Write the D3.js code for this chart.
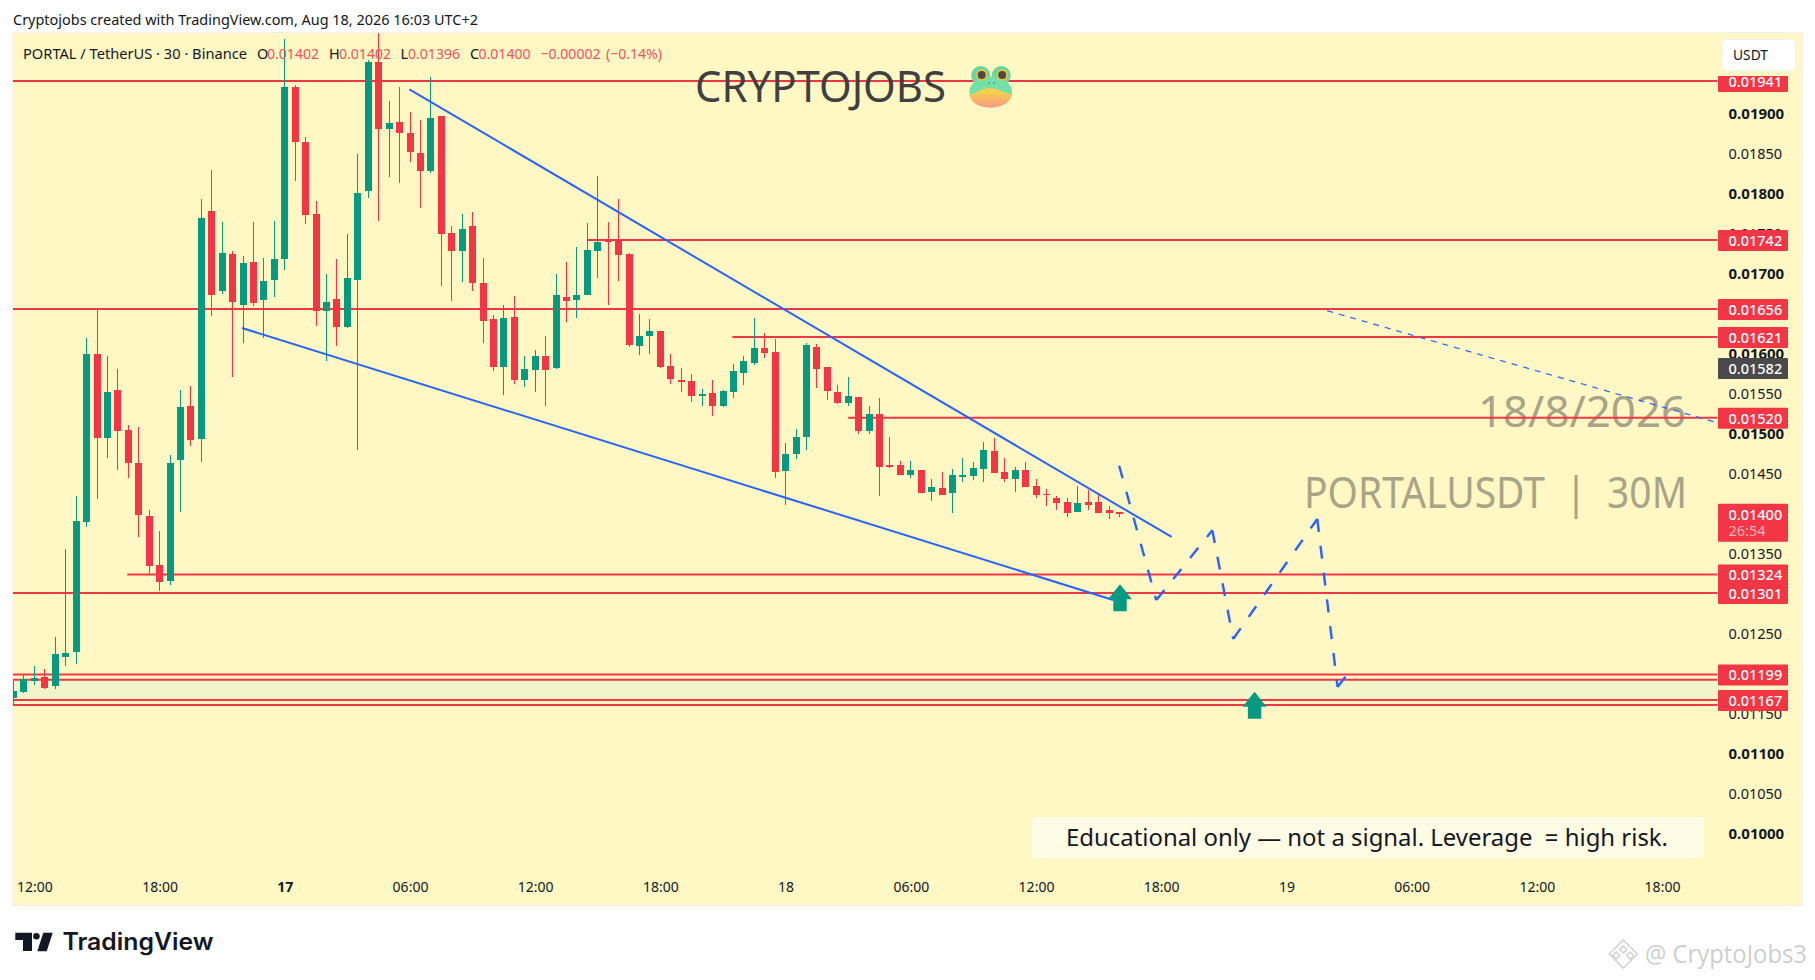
<!DOCTYPE html>
<html>
<head>
<meta charset="utf-8">
<title>PORTALUSDT 30M</title>
<script src="https://cdn.jsdelivr.net/npm/d3@7"></script>
<style>
  html, body { margin: 0; padding: 0; background: #fff; }
  svg { display: block; }
  text { font-family: "Noto Sans", sans-serif; }
</style>
</head>
<body>
<div id="chart"></div>
<script>
// candles, 1e-5 USDT. bar 0 = 12:00 on the 16th, one bar = 30 min
const firstBar = -2;
const opens = [1170,1177,1191,1196,1185,1221,1227,1390,1600,1495,1555,1505,1463,1397,1336,1316,1467,1535,1493,1778,1678,1725,1661,1715,1667,1692,1718,1933,1865,1775,1653,1668,1633,1692,1803,1965,1881,1890,1876,1851,1828,1897,1751,1728,1760,1688,1643,1583,1646,1567,1580,1597,1582,1671,1667,1673,1728,1742,1742,1725,1610,1622,1628,1585,1567,1566,1547,1551,1535,1552,1576,1588,1607,1602,1453,1475,1496,1608,1583,1552,1538,1546,1503,1525,1461,1461,1448,1455,1427,1432,1426,1447,1447,1456,1478,1452,1443,1455,1435,1425,1420,1415,1402,1415,1415,1405,1402];
const highs = [1191,1200,1210,1206,1246,1356,1422,1620,1655,1597,1581,1511,1508,1405,1378,1473,1555,1560,1793,1830,1765,1728,1722,1765,1720,1766,1993,1936,1871,1791,1700,1718,1750,1850,1967,2003,1916,1933,1902,1892,1946,1897,1760,1775,1777,1720,1648,1661,1672,1597,1605,1622,1700,1715,1733,1763,1822,1765,1793,1726,1650,1643,1629,1600,1582,1575,1556,1567,1555,1587,1597,1645,1626,1618,1488,1506,1613,1612,1584,1561,1571,1546,1535,1545,1496,1466,1466,1455,1443,1452,1456,1470,1465,1490,1495,1470,1458,1465,1443,1431,1422,1420,1435,1430,1425,1410,1402];
const lows = [1161,1176,1186,1181,1181,1210,1212,1383,1418,1470,1455,1445,1371,1325,1303,1311,1402,1485,1465,1647,1675,1571,1613,1660,1620,1671,1705,1816,1762,1635,1591,1610,1632,1480,1795,1766,1821,1813,1840,1782,1826,1685,1666,1690,1678,1613,1578,1548,1562,1558,1552,1535,1581,1640,1645,1673,1695,1661,1691,1608,1598,1600,1582,1562,1552,1540,1535,1522,1533,1545,1561,1586,1595,1445,1411,1468,1480,1557,1542,1537,1535,1500,1500,1422,1457,1448,1445,1426,1416,1423,1401,1440,1442,1440,1451,1440,1427,1433,1420,1410,1405,1396,1402,1405,1401,1393,1396];
const closes = [1178,1193,1195,1182,1225,1226,1391,1600,1495,1552,1504,1463,1398,1335,1315,1463,1533,1492,1770,1673,1726,1665,1713,1663,1691,1718,1933,1865,1773,1653,1665,1633,1695,1801,1965,1881,1888,1876,1852,1828,1895,1750,1728,1756,1688,1641,1583,1645,1567,1581,1597,1580,1673,1666,1673,1730,1740,1740,1723,1611,1622,1628,1583,1568,1566,1547,1550,1535,1553,1578,1591,1607,1601,1452,1475,1496,1611,1581,1553,1538,1547,1503,1525,1458,1458,1448,1455,1426,1433,1423,1448,1448,1457,1480,1451,1443,1455,1433,1423,1423,1413,1401,1413,1411,1401,1401,1400];

// price axis, the ones fully behind a price tag are left out
const priceTicks = [1000,1050,1100,1150,1250,1350,1450,1500,1550,1600,1700,1750,1800,1850,1900];

// time axis (bar index + label)
const timeBars = [0,12,24,36,48,60,72,84,96,108,120,132,144,156];
const timeLabels = ["12:00","18:00","17","06:00","12:00","18:00","18","06:00","12:00","18:00","19","06:00","12:00","18:00"];
const timeBold = ["17"];

// horizontal levels: price, bar where it starts (null = runs from the left edge)
const levelPrices = [1941,1742,1656,1621,1520,1324,1301,1199,1167];
const levelStarts = [null,53.0,null,66.9,78.0,8.9,null,null,null];

// support zone edges
const zoneTop = 1192.5;
const zoneBottom = 1167;
const zoneLowLine = 1161;

// drawings: [bar, price]
const upperTrend = [[35.94,1930.5],[109.0,1370.9]];
const lowerTrend = [[19.9,1632.1],[103.4,1292.1]];
const thinDashed = [[123.9,1653.75],[161.3,1513.75]];
const projection = [[103.97,1460],[107.53,1292],[112.9,1379.25],[114.9,1243.4],[122.96,1393.4],[124.9,1183.4],[125.95,1201]];
const arrowTips = [[104.05,1311.75],[116.95,1177.5]];

const width = 1815;
const height = 980;
const chartL = 13, chartR = 1802, chartT = 33, chartB = 905;
const plotR = 1717;

const green = "#089981";
const red = "#f23645";
const blue = "#2962ff";
const paper = "#fff8c4";

const x = d3.scaleLinear().domain([0,12]).range([34.4,159.6]);
const y = d3.scaleLinear().domain([1000,1900]).range([833.7,113.7]);

const svg = d3.select("#chart").append("svg")
    .attr("width", width)
    .attr("height", height)
    .attr("viewBox", `0 0 ${width} ${height}`);

const defs = svg.append("defs");
defs.append("clipPath").attr("id", "plot-clip")
    .append("rect").attr("x", chartL).attr("y", chartT)
    .attr("width", plotR - chartL).attr("height", chartB - chartT);

const belly = defs.append("linearGradient").attr("id", "belly")
    .attr("x1", 0).attr("y1", 0).attr("x2", 0).attr("y2", 1);
belly.append("stop").attr("offset", "20%").attr("stop-color", "#f8d04c");
belly.append("stop").attr("offset", "100%").attr("stop-color", "#f99a86");

// puts a text down, optionally squeezed to a fixed width
function label(g, str, px, py, size, opts) {
    opts = opts || {};
    const t = g.append("text")
        .attr("x", px)
        .attr("y", py)
        .attr("font-size", size)
        .attr("fill", opts.fill || "#131722")
        .attr("font-weight", opts.weight || 400)
        .attr("text-anchor", opts.anchor || "start")
        .style("white-space", "pre")
        .text(str);
    if (opts.family) t.style("font-family", opts.family);
    if (opts.w) t.attr("textLength", opts.w).attr("lengthAdjust", "spacingAndGlyphs");
    return t;
}

// panel
svg.append("rect")
    .attr("x", chartL - .5).attr("y", chartT - .5)
    .attr("width", chartR - chartL + 1).attr("height", chartB - chartT + 1)
    .attr("fill", paper).attr("stroke", "#efefef").attr("stroke-width", 1);

// top line
label(svg, "Cryptojobs created with TradingView.com, Aug 18, 2026 16:03 UTC+2", 13, 25, 14.5, {w: 465});

const plot = svg.append("g").attr("clip-path", "url(#plot-clip)");

// zone
plot.append("rect")
    .attr("x", chartL).attr("width", plotR - chartL)
    .attr("y", y(zoneTop)).attr("height", y(zoneBottom) - y(zoneTop))
    .attr("fill", "#f2f5c9");

// watermark texts sit under the levels
label(plot, "18/8/2026", 1478, 426.5, 44, {fill: "#a8a487", w: 208});
label(plot, "PORTALUSDT  |  30M", 1304, 508, 43, {fill: "#a8a487", w: 383});

// levels
plot.selectAll("line.level")
    .data(levelPrices)
    .enter()
    .append("line")
    .attr("class", "level")
    .attr("x1", (d, i) => levelStarts[i] === null ? chartL : x(levelStarts[i]))
    .attr("x2", plotR)
    .attr("y1", d => y(d))
    .attr("y2", d => y(d))
    .attr("stroke", red)
    .attr("stroke-width", 2);

plot.selectAll("line.zone-edge")
    .data([zoneTop, zoneLowLine])
    .enter()
    .append("line")
    .attr("class", "zone-edge")
    .attr("x1", chartL)
    .attr("x2", plotR)
    .attr("y1", d => y(d))
    .attr("y2", d => y(d))
    .attr("stroke", red)
    .attr("stroke-width", 2);

// candles
const bars = d3.range(opens.length);
const barX = i => x(firstBar + i);
const barColor = i => closes[i] > opens[i] ? green : red;

const candles = plot.append("g").attr("shape-rendering", "crispEdges");
candles.selectAll("line")
    .data(bars)
    .enter()
    .append("line")
    .attr("x1", barX)
    .attr("x2", barX)
    .attr("y1", i => y(highs[i]))
    .attr("y2", i => y(lows[i]))
    .attr("stroke", barColor)
    .attr("stroke-width", 1);
candles.selectAll("rect")
    .data(bars)
    .enter()
    .append("rect")
    .attr("x", i => barX(i) - 3.5)
    .attr("width", 7)
    .attr("y", i => y(Math.max(opens[i], closes[i])))
    .attr("height", i => Math.max(1.5, Math.abs(y(opens[i]) - y(closes[i]))))
    .attr("fill", barColor);

// trend lines and the projected path
const drawLine = d3.line().x(d => x(d[0])).y(d => y(d[1]));

plot.selectAll("path.trend")
    .data([upperTrend, lowerTrend])
    .enter()
    .append("path")
    .attr("class", "trend")
    .attr("d", drawLine)
    .attr("fill", "none")
    .attr("stroke", blue)
    .attr("stroke-width", 2);

plot.append("path")
    .attr("d", drawLine(thinDashed))
    .attr("fill", "none")
    .attr("stroke", blue)
    .attr("stroke-width", 1.2)
    .attr("stroke-dasharray", "6 6");

// every leg starts its own dash, as the drawing tool does
plot.selectAll("path.leg")
    .data(d3.pairs(projection))
    .enter()
    .append("path")
    .attr("class", "leg")
    .attr("d", drawLine)
    .attr("fill", "none")
    .attr("stroke", blue)
    .attr("stroke-width", 2.4)
    .attr("stroke-dasharray", "13 14");

// arrows
plot.selectAll("path.arrow")
    .data(arrowTips)
    .enter()
    .append("path")
    .attr("class", "arrow")
    .attr("transform", d => `translate(${x(d[0])},${y(d[1])})`)
    .attr("d", "M0,0L12,15L6.7,15L6.7,27L-6.7,27L-6.7,15L-12,15Z")
    .attr("fill", green);

// price axis
const priceAxis = d3.axisRight(y)
    .tickValues(priceTicks)
    .tickSize(0)
    .tickPadding(0)
    .tickFormat(d => (d / 100000).toFixed(5));

const priceG = svg.append("g")
    .attr("transform", "translate(1728.5,0)")
    .call(priceAxis);
priceG.select(".domain").remove();
priceG.selectAll("text")
    .attr("font-size", d => d % 100 === 0 ? 15 : 14.5)
    .attr("fill", "#131722")
    .attr("font-weight", d => d % 100 === 0 ? 700 : 400)
    .style("font-family", "'Noto Sans', sans-serif");

// time axis
const timeAxis = d3.axisBottom(x)
    .tickValues(timeBars)
    .tickSize(0)
    .tickPadding(0)
    .tickFormat((d, i) => timeLabels[i]);

const timeG = svg.append("g")
    .attr("transform", "translate(0,882.5)")
    .call(timeAxis);
timeG.select(".domain").remove();
timeG.selectAll("text")
    .attr("font-size", 14)
    .attr("fill", "#131722")
    .attr("font-weight", (d, i) => timeBold.includes(timeLabels[i]) ? 700 : 400)
    .style("font-family", "'Noto Sans', sans-serif");

// price tags on the axis
const tagL = 1718, tagW = 70;
const tags = svg.append("g");
tags.selectAll("rect")
    .data(levelPrices)
    .enter()
    .append("rect")
    .attr("x", tagL)
    .attr("width", tagW)
    .attr("y", d => y(d) - 10)
    .attr("height", 21)
    .attr("rx", 1)
    .attr("fill", red);
tags.selectAll("text")
    .data(levelPrices)
    .enter()
    .append("text")
    .attr("x", 1728.5)
    .attr("y", d => y(d) + 5.8)
    .attr("font-size", 14.5)
    .attr("font-weight", 500)
    .attr("fill", "#fff")
    .text(d => (d / 100000).toFixed(5));

// marker at 0.01582, no line goes with it
tags.append("rect").attr("x", tagL).attr("width", tagW)
    .attr("y", y(1582) - 10).attr("height", 21).attr("rx", 1).attr("fill", "#4a4a4a");
label(tags, "0.01582", 1728.5, y(1582) + 5.8, 14.5, {fill: "#fff", weight: 500});

// last price with countdown
tags.append("rect").attr("x", tagL).attr("width", tagW)
    .attr("y", y(1400) - 10).attr("height", 38).attr("rx", 1).attr("fill", red);
label(tags, "0.01400", 1728.5, y(1400) + 5.8, 14.5, {fill: "#fff", weight: 500});
label(tags, "26:54", 1728.5, y(1400) + 22.5, 14.5, {fill: "#fbb4ba"});

// currency button, with a bit of panel colour round it
svg.append("rect").attr("x", 1718).attr("y", 37).attr("width", 82).attr("height", 39).attr("fill", paper);
svg.append("rect")
    .attr("x", 1722.5).attr("y", 39.5).attr("width", 73).attr("height", 31).attr("rx", 4)
    .attr("fill", "#fff").attr("stroke", "#f0f3fa");
label(svg, "USDT", 1733, 60, 14, {w: 35});

// legend row
const legend = svg.append("g");
const dim = "#f2525f";
label(legend, "PORTAL / TetherUS · 30 · Binance", 23, 59, 14.5, {w: 224});
label(legend, "O", 257, 59, 14.5);
label(legend, "0.01402", 267, 59, 14.5, {fill: dim, w: 52});
label(legend, "H", 329, 59, 14.5);
label(legend, "0.01402", 339, 59, 14.5, {fill: dim, w: 52});
label(legend, "L", 400.5, 59, 14.5);
label(legend, "0.01396", 408, 59, 14.5, {fill: dim, w: 52});
label(legend, "C", 470, 59, 14.5);
label(legend, "0.01400", 478.5, 59, 14.5, {fill: dim, w: 52});
label(legend, "−0.00002", 540.5, 59, 14.5, {fill: dim, w: 60});
label(legend, "(−0.14%)", 606, 59, 14.5, {fill: dim, w: 56});

// title
label(svg, "CRYPTOJOBS", 695, 102.3, 43, {fill: "#404040", w: 251});

// frog, no emoji font here
const frog = svg.append("g").attr("transform", "translate(990.7,0)");
frog.append("circle").attr("cx", -10).attr("cy", 75.5).attr("r", 9.5).attr("fill", "#69d6a0");
frog.append("circle").attr("cx", 10.5).attr("cy", 75.5).attr("r", 9.5).attr("fill", "#69d6a0");
frog.append("ellipse").attr("cx", 0).attr("cy", 92).attr("rx", 21.3).attr("ry", 15.5).attr("fill", "#72e0a8");
frog.append("path")
    .attr("d", "M-21,95C-14,93-9,88-1,88C7,88,13,93,21,94C20,103,10,107.5,0,107.5C-11,107.5-20,103-21,95Z")
    .attr("fill", "url(#belly)");
[-9, 11.5].forEach(cx => {
    frog.append("circle").attr("cx", cx).attr("cy", 75).attr("r", 5.8).attr("fill", "#f0c23c");
    frog.append("circle").attr("cx", cx).attr("cy", 75).attr("r", 4).attr("fill", "#4a4a48");
});
frog.append("circle").attr("cx", -1.5).attr("cy", 83).attr("r", .7).attr("fill", "#3a6a52");
frog.append("circle").attr("cx", 3.5).attr("cy", 83).attr("r", .7).attr("fill", "#3a6a52");

// note box
svg.append("rect").attr("x", 1032).attr("y", 817).attr("width", 672).attr("height", 41).attr("fill", "#fffce6");
label(svg, "Educational only — not a signal. Leverage  = high risk.", 1066, 846, 24, {w: 602});

// TradingView logo
const logo = svg.append("g").attr("fill", "#131722");
logo.append("path").attr("d", "M15.3,932.7H32V951H23V940H15.3Z");
logo.append("circle").attr("cx", 36.4).attr("cy", 936.2).attr("r", 3.3);
logo.append("path").attr("d", "M43.3,932.7H52.7L46.7,951.3H37.3Z");
label(svg, "TradingView", 62.5, 950, 24, {weight: 600, family: "Inter, sans-serif", w: 151});

// binance style mark + watermark handle
const mark = svg.append("g").attr("transform", "translate(1623.3,954)")
    .attr("fill", "none").attr("stroke", "#d4d4d4").attr("stroke-width", 1.6);
mark.append("path").attr("d", "M0,-14L14,0L0,14L-14,0Z");
mark.append("path").attr("d", "M0,-8L3.5,-4.5L0,-1L-3.5,-4.5Z");
mark.append("path").attr("d", "M-7,-2L-3.5,1.5L-7,5L-10.5,1.5Z");
mark.append("path").attr("d", "M7,-2L10.5,1.5L7,5L3.5,1.5Z");
label(svg, "@ CryptoJobs3", 1645, 963, 25, {fill: "#cfcfcf", family: "'Open Sans', sans-serif", w: 162});
</script>
</body>
</html>
